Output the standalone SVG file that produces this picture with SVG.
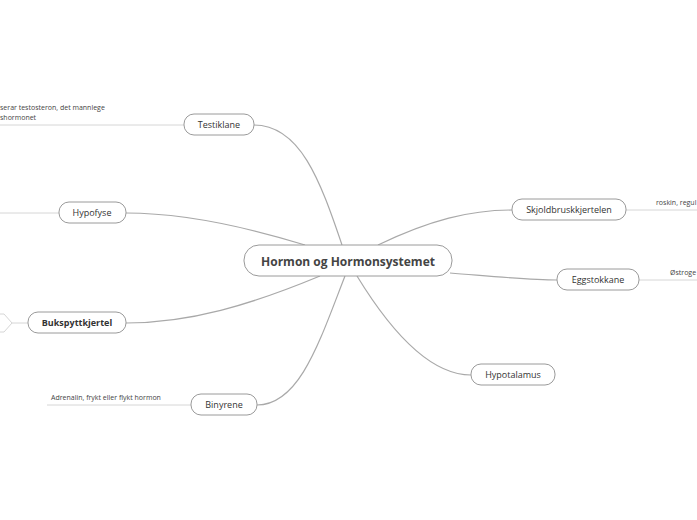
<svg xmlns="http://www.w3.org/2000/svg" width="697" height="520" viewBox="0 0 697 520">
<style>
.n{fill:#fff;stroke:#9a9a9a;stroke-width:1}
.c{fill:none;stroke:#a9a9a9;stroke-width:1.2}
.s{fill:none;stroke:#d6d6d6;stroke-width:1}
.t{font-family:"Open Sans","Noto Sans",sans-serif;font-size:9px;fill:#333;text-anchor:middle}
.b{font-weight:bold}
.m{font-family:"Open Sans","Noto Sans",sans-serif;font-size:7px;fill:#444}
</style>
<rect width="697" height="520" fill="#fff"/>
<g id="connectors">
<path class="c" d="M342 245 C320 180 300 125 254 125"/>
<path class="c" d="M305 245 C240 225 180 213 126 213"/>
<path class="c" d="M320 276 C250 305 190 323 126 323"/>
<path class="c" d="M345 276 C320 340 300 405 257 405"/>
<path class="c" d="M378 245 C430 220 470 210 512 210"/>
<path class="c" d="M450 273 C500 277 530 280 557 280"/>
<path class="c" d="M357 276 C390 330 430 375 471 375"/>
<path class="s" d="M184 125 H0"/>
<path class="s" d="M59 213 H0"/>
<path class="s" d="M28 323 H12 L4 314 H0 M12 323 L4 332 H0"/>
<path class="s" d="M191 405 H47"/>
<path class="s" d="M626 210 H697"/>
<path class="s" d="M639 280 H697"/>
</g>
<g id="central"><rect class="n" x="244" y="245" width="208" height="31" rx="15" stroke-width="2"/><text class="t b" x="348" y="265.5" style="font-size:12px;fill:#444">Hormon og Hormonsystemet</text></g>
<g id="testiklane"><rect class="n" x="184" y="114" width="70" height="21" rx="10"/><text class="t" x="219" y="128">Testiklane</text></g>
<g id="hypofyse"><rect class="n" x="59" y="202" width="67" height="21" rx="10"/><text class="t" x="92" y="216">Hypofyse</text></g>
<g id="bukspytt"><rect class="n" x="28" y="312" width="98" height="21" rx="10"/><text class="t b" x="77" y="326">Bukspyttkjertel</text></g>
<g id="binyrene"><rect class="n" x="191" y="394" width="66" height="21" rx="10"/><text class="t" x="224" y="408">Binyrene</text></g>
<g id="skjold"><rect class="n" x="512" y="199" width="114" height="21" rx="10"/><text class="t" x="569" y="213">Skjoldbruskkjertelen</text></g>
<g id="egg"><rect class="n" x="557" y="269" width="82" height="21" rx="10"/><text class="t" x="598" y="283">Eggstokkane</text></g>
<g id="hypotalamus"><rect class="n" x="471" y="364" width="84" height="21" rx="10"/><text class="t" x="513" y="378">Hypotalamus</text></g>
<g id="notes">
<text class="m" x="0" y="110">serar testosteron, det mannlege</text>
<text class="m" x="0" y="120">shormonet</text>
<text class="m" x="51" y="400">Adrenalin, frykt eller flykt hormon</text>
<text class="m" x="656" y="205">roskin, regul</text>
<text class="m" x="670" y="275">Østroge</text>
</g>
</svg>
